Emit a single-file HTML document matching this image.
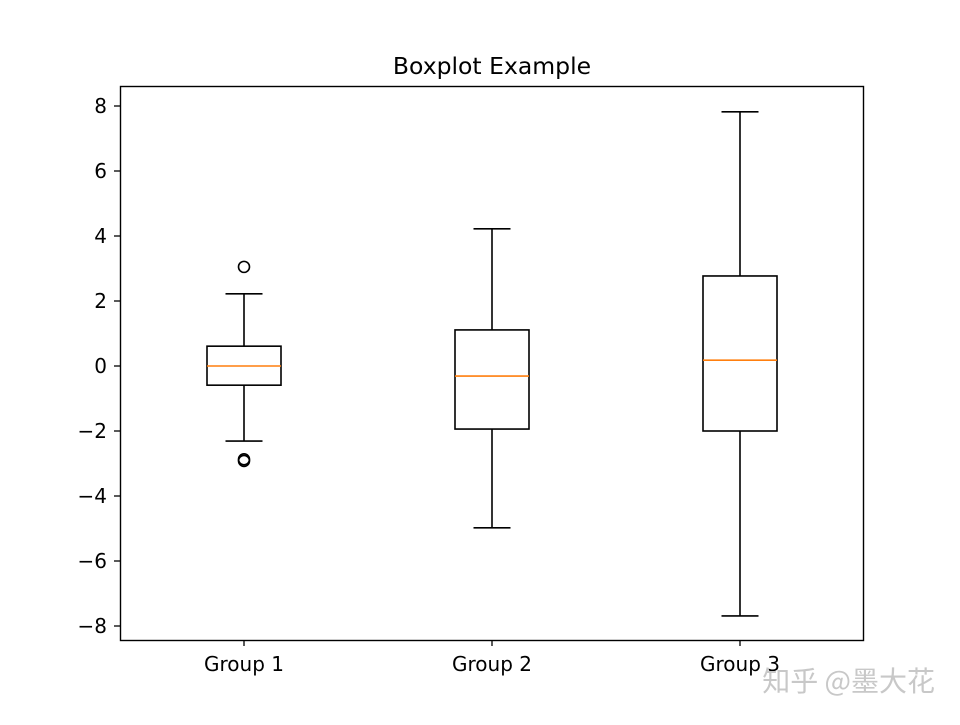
<!DOCTYPE html>
<html><head><meta charset="utf-8"><style>
body{margin:0;background:#fff;}
svg text{font-family:"DejaVu Sans","Liberation Sans",sans-serif;}
</style></head><body>
<svg id="chart" width="960" height="720" xmlns="http://www.w3.org/2000/svg">
<rect width="960" height="720" fill="#fff"/>
<text x="492" y="74" font-size="23.5" text-anchor="middle">Boxplot Example</text>
<g id="marks"></g>
<rect x="120.5" y="86.5" width="743" height="554" fill="none" stroke="#000" stroke-width="1.4"/>
<g id="axes"></g>
<text x="935" y="691" font-size="28" text-anchor="end" fill="#c8c8c8" style="font-family:'Noto Sans CJK SC',sans-serif">知乎 @墨大花</text>
</svg>
<script>
const categories=["Group 1","Group 2","Group 3"];
const whiskerHigh=[2.22,4.22,7.82];
const q3=[0.61,1.11,2.77];
const medians=[0.0,-0.31,0.18];
const q1=[-0.59,-1.94,-2.0];
const whiskerLow=[-2.31,-4.98,-7.69];
const outliers=[[3.05,-2.87,-2.92],[],[]];
const yTicks=[-8,-6,-4,-2,0,2,4,6,8];
const ns="http://www.w3.org/2000/svg";
function y(v){return 366-32.5*v;}
function x(i){return 244+248*i;}
const marks=document.getElementById('marks'),axes=document.getElementById('axes');
function mk(p,tag,attrs){const e=document.createElementNS(ns,tag);for(const k in attrs)e.setAttribute(k,attrs[k]);p.appendChild(e);return e;}
const bw=74;
categories.forEach((c,i)=>{
  const cx=x(i);
  let l=mk(marks,'line',{x1:cx,x2:cx,y1:y(q3[i]),y2:y(whiskerHigh[i]),stroke:'#000','stroke-width':1.6});
  
  
  l=mk(marks,'line',{x1:cx,x2:cx,y1:y(q1[i]),y2:y(whiskerLow[i]),stroke:'#000','stroke-width':1.6});
  
  
  l=mk(marks,'line',{x1:cx-18.5,x2:cx+18.5,y1:y(whiskerHigh[i]),y2:y(whiskerHigh[i]),stroke:'#000','stroke-width':1.6});
  
  
  l=mk(marks,'line',{x1:cx-18.5,x2:cx+18.5,y1:y(whiskerLow[i]),y2:y(whiskerLow[i]),stroke:'#000','stroke-width':1.6});
  
  
  const b=mk(marks,'rect',{x:cx-bw/2,y:y(q3[i]),width:bw,height:y(q1[i])-y(q3[i]),fill:'none',stroke:'#000','stroke-width':1.6});
  
  
  l=mk(marks,'line',{x1:cx-bw/2,x2:cx+bw/2,y1:y(medians[i]),y2:y(medians[i]),stroke:'#ff7f0e','stroke-width':1.6});
  
  
  outliers[i].forEach(o=>{
    const p=mk(marks,'circle',{cx:cx,cy:y(o),r:5.5,fill:'none',stroke:'#000','stroke-width':1.6});
    
    
  });
  const t=mk(axes,'line',{x1:cx,x2:cx,y1:640,y2:646,stroke:'#000','stroke-width':1.3});
  
  
  const tx=mk(axes,'text',{x:cx,y:671,'font-size':'20','text-anchor':'middle'});
  tx.textContent=c;
  
  
});
yTicks.forEach(v=>{
  const t=mk(axes,'line',{x1:114,x2:120,y1:y(v),y2:y(v),stroke:'#000','stroke-width':1.3});
  
  
  const tx=mk(axes,'text',{x:107,y:y(v)+7,'font-size':'20','text-anchor':'end'});
  tx.textContent=(v<0?'\u2212'+(-v):String(v));
  
  
});
</script>
</body></html>
